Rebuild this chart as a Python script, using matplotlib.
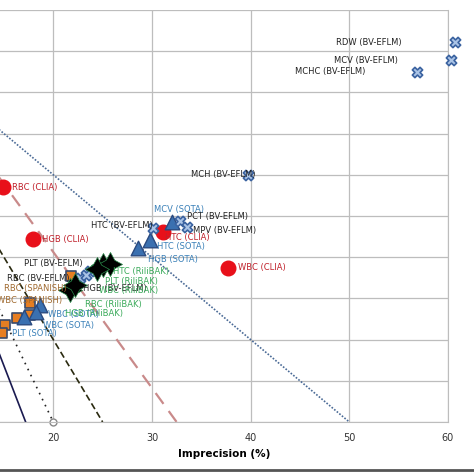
import matplotlib
matplotlib.use("Agg")
import matplotlib.pyplot as plt

plt.rcParams['font.family'] = ['DejaVu Sans']

# Performance limit lines: (x at zero bias, slope)
line_x0 = [50.0, 32.5, 25.0, 20.0, 17.2]
line_slope = [1.0, 1.65, 2.0, 2.5, 3.1]
line_color = ['#4a6a96', '#c98a8a', '#2a2a10', '#222222', '#1a1a50']
line_style = [(0, (1, 1)), (0, (6, 4)), (0, (4, 2)), (0, (1, 3)), '-']

clia_names = ['RBC', 'HGB', 'HTC', 'WBC']
clia_x = [14.9, 17.9, 31.1, 37.7]
clia_y = [28.5, 22.2, 23.1, 18.7]

eflm_names = ['RDW', 'MCV', 'MCHC', 'MCH', 'PCT', 'MPV', 'HTC', 'PLT', 'RBC', 'HGB']
eflm_x = [60.7, 60.3, 56.9, 39.7, 32.8, 33.5, 30.1, 23.7, 22.7, 23.3]
eflm_y = [46.1, 43.9, 42.5, 30.0, 24.4, 23.7, 23.5, 18.3, 17.5, 17.9]

sota_names = ['MCV', 'HTC', 'HGB', 'WBC', 'WBC', 'PLT']
sota_x = [32.0, 29.8, 28.6, 18.7, 18.2, 17.0]
sota_y = [24.3, 22.1, 21.1, 14.2, 13.3, 12.8]

span_x = [21.8, 17.6, 17.6, 16.3, 15.1, 14.8]
span_y = [17.7, 14.4, 13.0, 12.6, 11.8, 10.8]

rili_names = ['HTC', 'PLT', 'WBC', 'RBC', 'HGB']
rili_x = [25.0, 25.7, 24.4, 21.7, 22.2]
rili_y = [19.0, 19.2, 18.6, 16.0, 16.6]

fig = plt.figure(figsize=(4.74, 4.74), dpi=100)
ax = fig.add_axes([0, 52/474, 448/474, 412/474])
ax.set_xlim(14.6, 60)
ax.set_ylim(0, 50)
ax.set_xticks([20, 30, 40, 50, 60])
ax.set_yticks(range(0, 51, 5))
ax.grid(True, color='#bdbdbd', lw=0.9)
ax.set_axisbelow(True)
for s in ['left', 'top']:
    ax.spines[s].set_visible(False)
for s in ['right', 'bottom']:
    ax.spines[s].set_color('#bdbdbd')
ax.tick_params(length=0, labelsize=7, colors='#333333', pad=8)
ax.set_yticklabels([])
ax.set_xlabel('Imprecision (%)', fontsize=7.5, fontweight='bold', labelpad=4)

for x0, k, c, ls in zip(line_x0, line_slope, line_color, line_style):
    ax.plot([0, x0], [k * x0, 0], color=c, ls=ls, lw=1.6 if c == '#c98a8a' else 1.2)
ax.plot([20], [0], 'o', mfc='white', mec='#888888', ms=5, clip_on=False)

ax.scatter(clia_x, clia_y, s=110, color='#e8101a', zorder=4, clip_on=False)
ax.scatter(span_x, span_y, s=55, marker='s', color='#e67e22', edgecolor='#3a4a6a', lw=1.2, zorder=4, clip_on=False)
ax.scatter(sota_x, sota_y, s=110, marker='^', color='#3a70b0', edgecolor='#2a4a80', zorder=5, clip_on=False)
ax.scatter(eflm_x, eflm_y, s=55, marker='X', color='#aac4e6', edgecolor='#3a62a0', lw=1.2, zorder=6, clip_on=False)
ax.scatter(rili_x, rili_y, s=300, marker=(4, 1, 0), color='black', edgecolor='#2a8a4a', lw=0.5, zorder=7, clip_on=False)

fs = 6
def lab(x, y, name, src, cname, csrc, bold=False, ha='left'):
    ax.annotate(f"{name} ", (x, y), fontsize=fs, color=cname, ha=ha, va='center',
                annotation_clip=False) if False else None
    ax.text(x, y, f"{name} ({src})", fontsize=fs, color=cname, ha=ha, va='center',
            fontweight='bold' if bold else 'normal', clip_on=False, zorder=8)

lab(55.3, 46.1, 'RDW', 'BV-EFLM', '#222222', None, ha='right')
lab(54.9, 43.9, 'MCV', 'BV-EFLM', '#222222', None, ha='right')
lab(51.6, 42.5, 'MCHC', 'BV-EFLM', '#222222', None, ha='right')
lab(34.0, 30.0, 'MCH', 'BV-EFLM', '#222222', None)
lab(33.5, 24.9, 'PCT', 'BV-EFLM', '#222222', None)
lab(34.2, 23.2, 'MPV', 'BV-EFLM', '#222222', None)
lab(23.8, 23.8, 'HTC', 'BV-EFLM', '#222222', None)
lab(17.0, 19.2, 'PLT', 'BV-EFLM', '#222222', None)
lab(15.3, 17.4, 'RBC', 'BV-EFLM', '#222222', None)
lab(23.0, 16.2, 'HGB', 'BV-EFLM', '#222222', None)
lab(15.8, 28.5, 'RBC', 'CLIA', '#c0202a', None)
lab(18.9, 22.2, 'HGB', 'CLIA', '#c0202a', None)
lab(31.3, 22.4, 'HTC', 'CLIA', '#c0202a', None)
lab(38.7, 18.7, 'WBC', 'CLIA', '#c0202a', None)
lab(30.2, 25.8, 'MCV', 'SOTA', '#3a80b8', None)
lab(30.5, 21.3, 'HTC', 'SOTA', '#3a80b8', None)
lab(29.6, 19.7, 'HGB', 'SOTA', '#3a80b8', None)
lab(19.5, 13.1, 'WBC', 'SOTA', '#3a80b8', None)
lab(19.0, 11.7, 'WBC', 'SOTA', '#3a80b8', None)
lab(15.8, 10.7, 'PLT', 'SOTA', '#3a80b8', None)
lab(26.1, 18.3, 'HTC', 'RiliBAK', '#3aaa5a', None)
lab(25.2, 17.1, 'PLT', 'RiliBAK', '#3aaa5a', None)
lab(24.6, 15.9, 'WBC', 'RiliBAK', '#3aaa5a', None)
lab(23.2, 14.3, 'RBC', 'RiliBAK', '#3aaa5a', None)
lab(21.2, 13.2, 'HGB', 'RiliBAK', '#3aaa5a', None)
lab(15.0, 16.2, 'RBC', 'SPANISH', '#a06a30', None)
lab(14.3, 14.7, 'WBC', 'SPANISH', '#a06a30', None)

fig.add_artist(plt.Line2D([0, 1], [4/474, 4/474], color='#555555', lw=2))
fig.savefig('out.png', dpi=100)
